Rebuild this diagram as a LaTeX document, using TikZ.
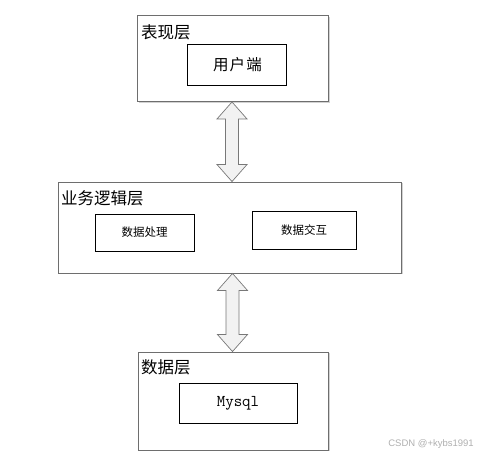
\documentclass[tikz,border=0pt]{standalone}
\usepackage{fontspec}
\setmainfont{Liberation Sans}
\newfontfamily\cjk{Noto Sans CJK SC}
\newfontfamily\cjkwide[LetterSpace=8]{Noto Sans CJK SC}
\usetikzlibrary{calc,shadows}
\definecolor{boxgray}{RGB}{110,110,110}
\definecolor{arrowgray}{RGB}{120,120,120}
\definecolor{arrowfill}{RGB}{242,242,242}
\definecolor{markgray}{RGB}{175,175,175}
\tikzset{
  layerbox/.style={draw=boxgray, line width=0.9pt, fill=white, inner sep=0pt,
    drop shadow={shadow xshift=1.5pt, shadow yshift=-1.5pt, fill=gray!35, opacity=1}},
  innerbox/.style={draw=black, line width=0.7pt, fill=white, inner sep=0pt},
  layertitle/.style={font=\cjk\fontsize{16.5}{18}\selectfont, anchor=west, inner sep=0pt},
  bigtext/.style={font=\cjkwide\fontsize{15.5}{17}\selectfont},
  smalltext/.style={font=\cjk\fontsize{11.5}{13}\selectfont},
  monotext/.style={font=\ttfamily\fontsize{16.5}{18}\selectfont},
  dblarrow/.style={draw=arrowgray, line width=0.7pt, fill=arrowfill, line join=miter},
}
\newcommand\layerarrow[2]{%
  \path[dblarrow] let \p1=(#1), \p2=(#2) in
    (\p1) -- (\x1+15pt,\y1-17pt) -- (\x1+6.5pt,\y1-17pt) -- (\x1+6.5pt,\y2+17pt)
    -- (\x1+15pt,\y2+17pt) -- (\p2) -- (\x1-15pt,\y2+17pt) -- (\x1-6.5pt,\y2+17pt)
    -- (\x1-6.5pt,\y1-17pt) -- (\x1-15pt,\y1-17pt) -- cycle;}
\begin{document}
\begin{tikzpicture}[x=1pt,y=-1pt]
\useasboundingbox (0,0) rectangle (480,457);
% layer boxes
\node[layerbox, minimum width=191, minimum height=86] (top) at (232.5,58.5) {};
\node[layerbox, minimum width=343, minimum height=91] (mid) at (229.5,227.5) {};
\node[layerbox, minimum width=190, minimum height=98] (bot) at (233,401) {};
% titles
\node[layertitle] (toptitle) at (141,32) {表现层};
\node[layertitle] (midtitle) at (61,198) {业务逻辑层};
\node[layertitle] (bottitle) at (141,367) {数据层};
% inner boxes
\node[innerbox, minimum width=99, minimum height=41] (user) at (236.5,64.5) {};
\node[bigtext] at ([xshift=1pt]user.center) {用户端};
\node[innerbox, minimum width=99, minimum height=37] (proc) at (144.5,232.5) {};
\node[smalltext] at (proc.center) {数据处理};
\node[innerbox, minimum width=104, minimum height=38] (inter) at (304,230) {};
\node[smalltext] at (inter.center) {数据交互};
\node[innerbox, minimum width=118, minimum height=40] (mysql) at (238,403) {};
\node[monotext] at (mysql.center) {Mysql};
% arrows
\coordinate (a1) at (top.south -| 232,0);
\coordinate (b1) at (mid.north -| 232,0);
\coordinate (a2) at (mid.south -| 232.5,0);
\coordinate (b2) at (bot.north -| 232.5,0);
\layerarrow{a1}{b1}
\layerarrow{a2}{b2}
% watermark
\node[font=\fontsize{9.5}{11}\selectfont, text=markgray, anchor=east, inner sep=0pt] (mark) at (474,444) {CSDN @+kybs1991};
\end{tikzpicture}
\end{document}
